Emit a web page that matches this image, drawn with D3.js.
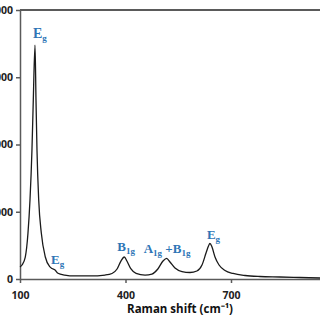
<!DOCTYPE html>
<html>
<head>
<meta charset="utf-8">
<script src="https://cdn.jsdelivr.net/npm/d3@7"></script>
<style>
  body { margin: 0; background: #fff; }
  svg { display: block; overflow: hidden; }
</style>
</head>
<body>
<div id="chart"></div>
<script>
// spectrum
const shift = [100, 105.7, 115, 122.7, 128.4, 134, 137.8, 142.7, 145.5, 148.3, 153.2, 160.6, 172, 184.5, 191, 199.5, 208, 227, 256, 299, 342, 361.6, 376, 387, 396.6, 404, 415.6, 430, 455.5, 475, 492, 506.6, 517, 526.5, 540.7, 560.7, 583.4, 603, 617.5, 629, 636, 640, 646, 654.5, 666, 683, 706, 740, 782, 839, 896, 953, 1000]
const intensity = [178, 208, 327, 684, 1174, 1917, 2660, 3477, 2660, 1917, 1174, 684, 327, 183, 156, 134, 85, 59, 45, 45, 59, 82, 149, 267, 327, 267, 149, 82, 59, 74, 149, 267, 308, 253, 163, 111, 97, 119, 208, 386, 490, 530, 475, 327, 208, 126, 82, 52, 37, 30, 22, 15, 12]

const xTicks = [100, 400, 700]
const yTicks = [0, 1000, 2000, 3000, 4000]

// band labels: symbol, subscript, band position
const bands = [
  { sym: "E", sub: "g", at: 142.7 },
  { sym: "E", sub: "g", at: 199.5 },
  { sym: "B", sub: "1g", at: 396.6 },
  { sym: "A", sub: "1g", sym2: " +B", sub2: "1g", at: 517 },
  { sym: "E", sub: "g", at: 640 }
]

const w = 320
const h = 320
const margin = { left: 20, top: 10, bottom: 41 }

const svg = d3.select("#chart")
  .append("svg")
  .attr("width", w)
  .attr("height", h)

const x = d3.scaleLinear()
  .domain([100, 1000])
  .range([margin.left, margin.left + 900 * 105.5 / 300])

const y = d3.scaleLinear()
  .domain([0, 4000])
  .range([h - margin.bottom, margin.top])

const axisColor = "#5a5a5a"

// top frame line
svg.append("line")
  .attr("x1", x(100)).attr("x2", w)
  .attr("y1", y(4000)).attr("y2", y(4000))
  .attr("stroke", axisColor)
  .attr("stroke-width", 2)

const xAxis = svg.append("g")
  .attr("transform", "translate(0," + y(0) + ")")
  .call(d3.axisBottom(x).tickValues(xTicks).tickSize(4).tickSizeOuter(0))

const yAxis = svg.append("g")
  .attr("transform", "translate(" + x(100) + ",0)")
  .call(d3.axisLeft(y).tickValues(yTicks).tickSize(4).tickSizeOuter(0))

svg.selectAll(".domain, .tick line")
  .attr("stroke", axisColor)
  .attr("stroke-width", 1.5)

svg.selectAll(".tick text")
  .attr("fill", "#222")
  .style("font-family", "'Open Sans', sans-serif")
  .style("font-weight", "bold")
  .style("font-size", "10.5px")

xAxis.selectAll(".tick text").attr("dy", "1.25em")
yAxis.selectAll(".tick text").attr("x", -7)

const line = d3.line()
  .x((d, i) => x(shift[i]))
  .y((d) => y(d))
  .curve(d3.curveMonotoneX)

svg.append("path")
  .datum(intensity)
  .attr("d", line)
  .attr("fill", "none")
  .attr("stroke", "#1a1a1a")
  .attr("stroke-width", 1.3)

svg.append("text")
  .attr("x", 180)
  .attr("y", 313)
  .attr("text-anchor", "middle")
  .attr("fill", "#111")
  .style("font-family", "'Open Sans', sans-serif")
  .style("font-weight", "bold")
  .style("font-size", "11.5px")
  .text("Raman shift (cm\u207B\u00B9)")

// label offsets from the band peak, in px
const offs = [[-2, -7], [-4, -6], [-7, -6], [-23, -5], [-3, -4]]

bands.forEach((b, i) => {
  const k = shift.indexOf(b.at)
  const t = svg.append("text")
    .attr("x", x(b.at) + offs[i][0])
    .attr("y", y(intensity[k]) + offs[i][1])
    .attr("fill", "#2e75b6")
    .style("font-family", "'Liberation Serif', serif")
    .style("font-weight", "bold")
    .style("font-size", i == 0 ? "14px" : "13px")
  t.append("tspan").text(b.sym)
  t.append("tspan").attr("dy", 3).style("font-size", "9px").text(b.sub)
  if (b.sym2) {
    t.append("tspan").attr("dy", -3).text(b.sym2)
    t.append("tspan").attr("dy", 3).style("font-size", "9px").text(b.sub2)
  }
})
</script>
</body>
</html>
